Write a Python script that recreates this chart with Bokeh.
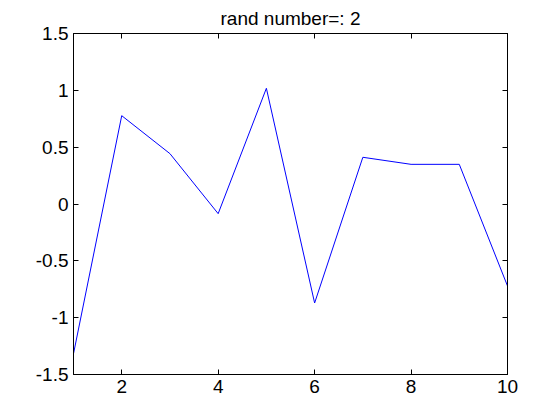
from bokeh.plotting import figure
from bokeh.embed import file_html
from bokeh.resources import INLINE
from bokeh.models import Range1d, LinearAxis, FixedTicker, Title

# data
x_vals = [1, 2, 3, 4, 5, 6, 7, 8, 9, 10]
y_vals = [-1.317, 0.777, 0.443, -0.085, 1.018, -0.871, 0.411, 0.349, 0.349, -0.721]

x_ticks = [2, 4, 6, 8, 10]
y_ticks = [-1.5, -1, -0.5, 0, 0.5, 1, 1.5]
y_tick_labels = ["-1.5", "-1", "-0.5", "0", "0.5", "1", "1.5"]

FONT = "Liberation Sans"

p = figure(
    width=544,
    height=404,
    frame_width=434,
    frame_height=341,
    x_range=Range1d(1, 10),
    y_range=Range1d(-1.5, 1.5),
    output_backend="svg",
    toolbar_location=None,
    x_axis_type=None,
    y_axis_type=None,
    min_border_left=73,
    min_border_right=37,
    min_border_top=33,
    min_border_bottom=30,
)

p.title = Title(text="rand number=: 2", align="center", text_font=FONT,
                text_font_size="19px", text_font_style="normal",
                text_color="black", standoff=9)

p.xgrid.visible = False
p.ygrid.visible = False
p.outline_line_color = "black"
p.outline_line_width = 1


def make_axis(ticks, labels=None, show_labels=True):
    ax = LinearAxis(ticker=FixedTicker(ticks=ticks))
    ax.major_tick_in = 5
    ax.major_tick_out = 0
    ax.minor_tick_in = 0
    ax.minor_tick_out = 0
    ax.axis_line_color = "black"
    ax.major_tick_line_color = "black"
    ax.major_label_text_font = FONT
    ax.major_label_text_font_size = "19px"
    ax.major_label_text_color = "black"
    ax.major_label_standoff = 5
    if labels is not None:
        ax.major_label_overrides = {t: l for t, l in zip(ticks, labels)}
    if not show_labels:
        ax.major_label_overrides = {t: "" for t in ticks}
        ax.major_label_standoff = 0
    return ax


p.add_layout(make_axis(x_ticks), "below")
p.add_layout(make_axis(y_ticks, y_tick_labels), "left")
p.add_layout(make_axis(x_ticks, show_labels=False), "above")
p.add_layout(make_axis(y_ticks, show_labels=False), "right")

p.line(x_vals, y_vals, line_color="#0000ff", line_width=1)

open("out.html", "w").write(file_html(p, INLINE))
